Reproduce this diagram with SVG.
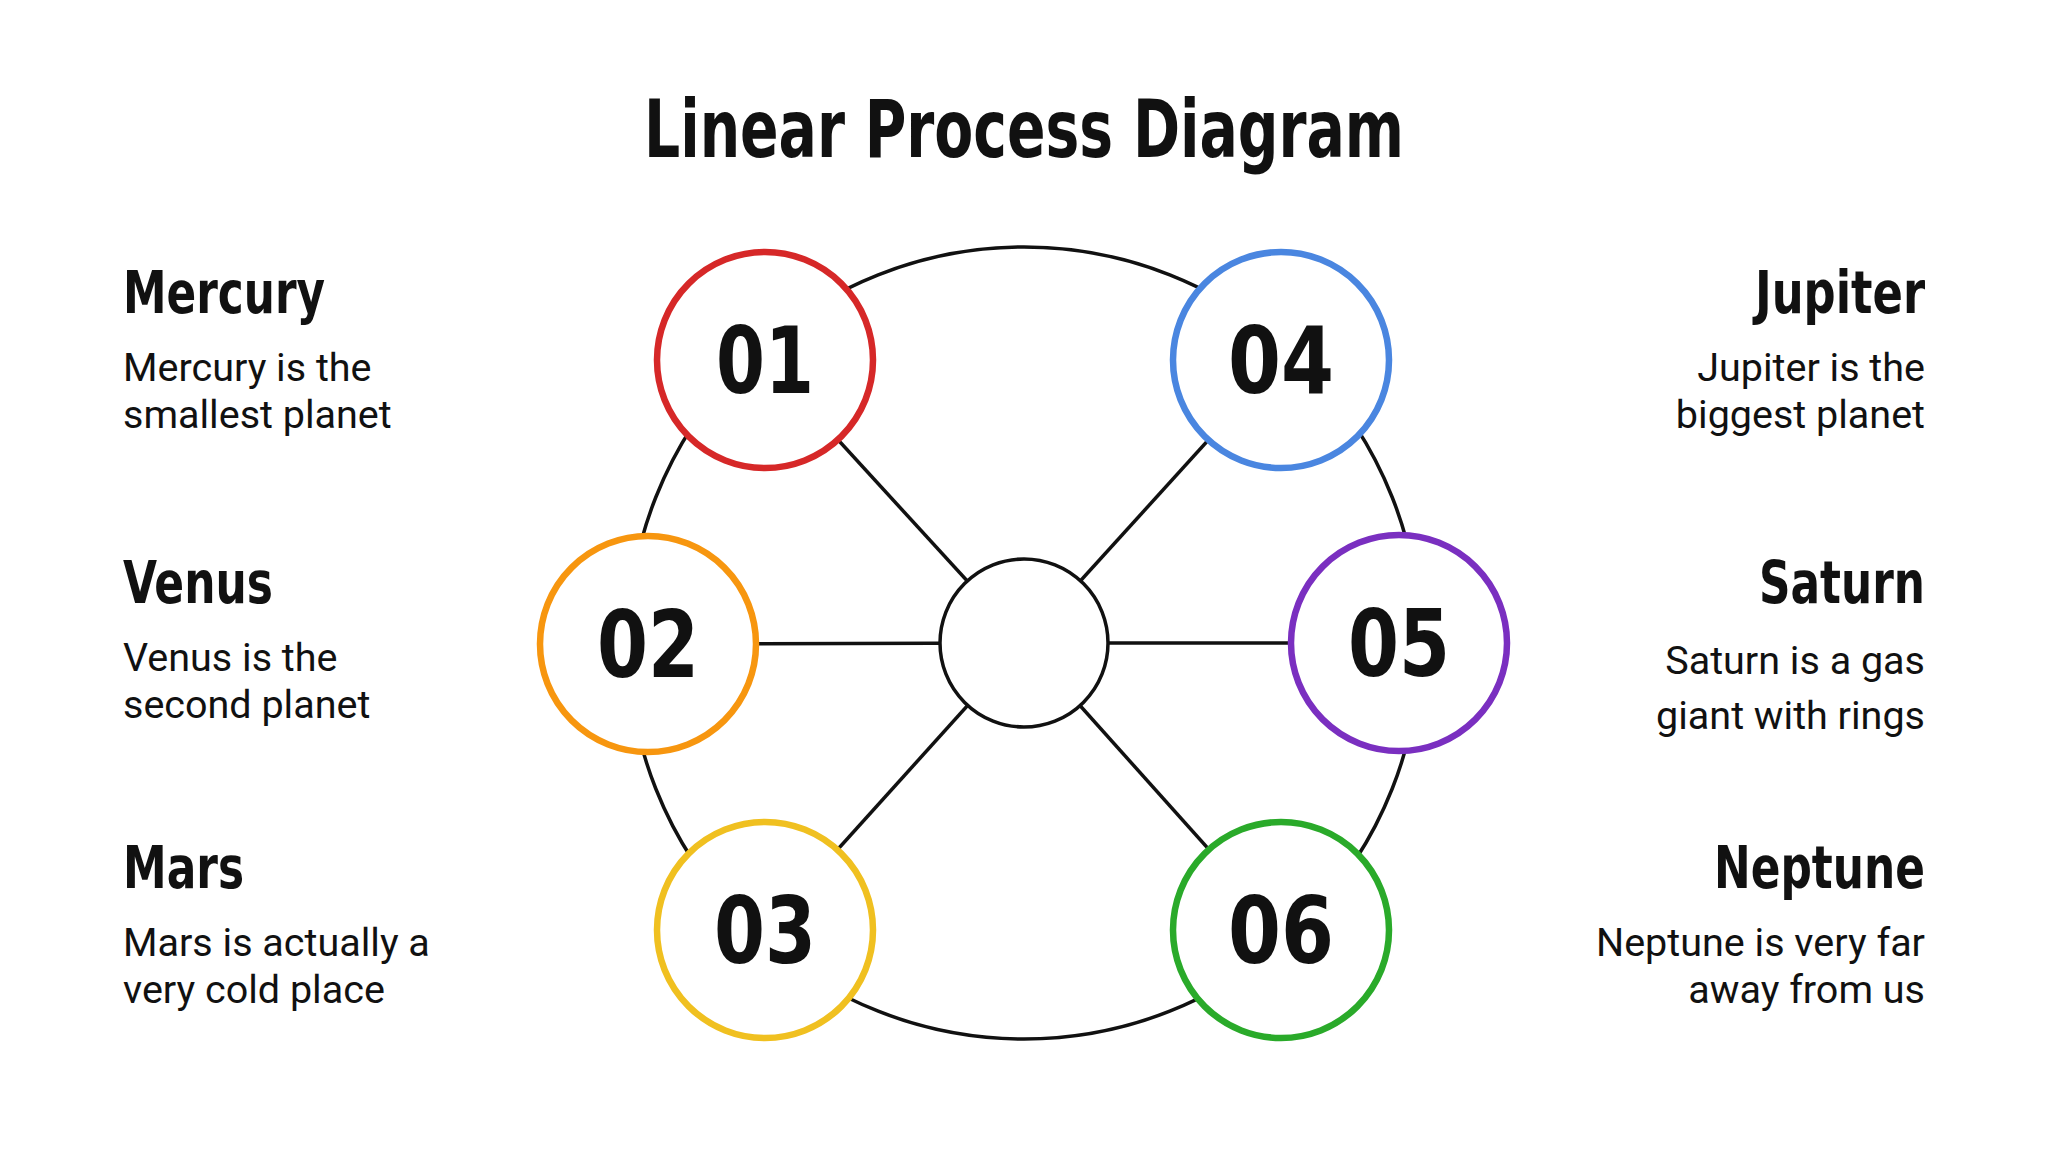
<svg xmlns="http://www.w3.org/2000/svg" width="2048" height="1152" viewBox="0 0 2048 1152">
<style>
.ln{stroke:#111;stroke-width:3.5;fill:none}
.nd{fill:#fff;stroke-width:6.5}
.num{font-family:"DejaVu Sans Condensed","DejaVu Sans",sans-serif;font-weight:bold;font-size:92px;fill:#111;text-anchor:middle}
.h{font-family:"DejaVu Sans Condensed","DejaVu Sans",sans-serif;font-weight:bold;font-size:58px;fill:#111}
.b{font-family:Roboto,"Liberation Sans",sans-serif;font-size:39.5px;fill:#111}
.r{text-anchor:end}
</style>
<rect width="2048" height="1152" fill="#fff"/>
<text x="1024" y="157" text-anchor="middle" class="h" style="font-size:80px" textLength="760" lengthAdjust="spacingAndGlyphs">Linear Process Diagram</text>
<g id="connectors">
<circle cx="1024" cy="643" r="396" class="ln"/>
<line x1="1024" y1="643" x2="765" y2="360" class="ln"/>
<line x1="1024" y1="643" x2="1281" y2="360" class="ln"/>
<line x1="1024" y1="643" x2="648" y2="644" class="ln"/>
<line x1="1024" y1="643" x2="1399" y2="643" class="ln"/>
<line x1="1024" y1="643" x2="765" y2="930" class="ln"/>
<line x1="1024" y1="643" x2="1281" y2="930" class="ln"/>
</g>
<g id="center"><circle cx="1024" cy="643" r="84" style="fill:#fff;stroke:#111;stroke-width:3.5"/></g>
<g id="n01"><circle cx="765" cy="360" r="108" class="nd" stroke="#d62828"/><text x="765" y="393" class="num" textLength="98" lengthAdjust="spacingAndGlyphs">01</text></g>
<g id="n02"><circle cx="648" cy="644" r="108" class="nd" stroke="#f7960f"/><text x="648" y="677" class="num" textLength="102" lengthAdjust="spacingAndGlyphs">02</text></g>
<g id="n03"><circle cx="765" cy="930" r="108" class="nd" stroke="#f0c020"/><text x="765" y="963" class="num" textLength="102" lengthAdjust="spacingAndGlyphs">03</text></g>
<g id="n04"><circle cx="1281" cy="360" r="108" class="nd" stroke="#4a86e0"/><text x="1281" y="393" class="num" textLength="106" lengthAdjust="spacingAndGlyphs">04</text></g>
<g id="n05"><circle cx="1399" cy="643" r="108" class="nd" stroke="#7a2fc0"/><text x="1399" y="676" class="num" textLength="102" lengthAdjust="spacingAndGlyphs">05</text></g>
<g id="n06"><circle cx="1281" cy="930" r="108" class="nd" stroke="#2aaa2a"/><text x="1281" y="963" class="num" textLength="106" lengthAdjust="spacingAndGlyphs">06</text></g>
<g id="mercury"><text x="123" y="313" class="h" textLength="202" lengthAdjust="spacingAndGlyphs">Mercury</text><text x="123" y="381" class="b">Mercury is the</text><text x="123" y="428" class="b">smallest planet</text></g>
<g id="venus"><text x="123" y="603" class="h" textLength="150" lengthAdjust="spacingAndGlyphs">Venus</text><text x="123" y="671" class="b">Venus is the</text><text x="123" y="718" class="b">second planet</text></g>
<g id="mars"><text x="123" y="888" class="h" textLength="121" lengthAdjust="spacingAndGlyphs">Mars</text><text x="123" y="956" class="b">Mars is actually a</text><text x="123" y="1003" class="b">very cold place</text></g>
<g id="jupiter"><text x="1925" y="313" class="h r" textLength="170" lengthAdjust="spacingAndGlyphs">Jupiter</text><text x="1925" y="381" class="b r">Jupiter is the</text><text x="1925" y="428" class="b r">biggest planet</text></g>
<g id="saturn"><text x="1925" y="603" class="h r" textLength="166" lengthAdjust="spacingAndGlyphs">Saturn</text><text x="1925" y="674" class="b r">Saturn is a gas</text><text x="1925" y="729" class="b r">giant with rings</text></g>
<g id="neptune"><text x="1925" y="888" class="h r" textLength="211" lengthAdjust="spacingAndGlyphs">Neptune</text><text x="1925" y="956" class="b r">Neptune is very far</text><text x="1925" y="1003" class="b r">away from us</text></g>
</svg>
